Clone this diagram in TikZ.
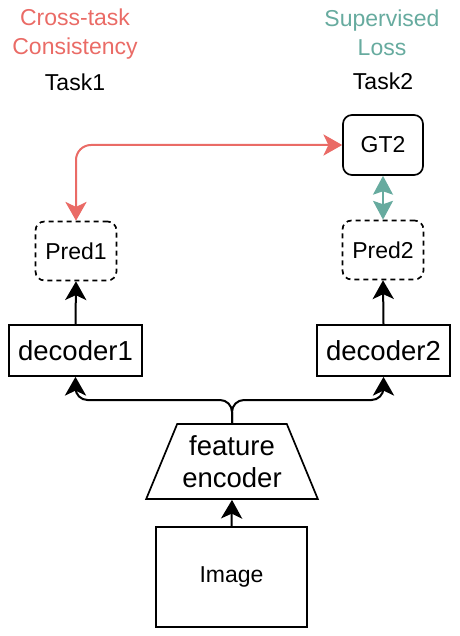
\documentclass[tikz,border=0pt]{standalone}
\usepackage{fontspec}
\setmainfont{Liberation Sans}
\usetikzlibrary{shapes.geometric,arrows.meta,positioning}
\definecolor{consistred}{RGB}{234, 107, 102}
\definecolor{superteal}{RGB}{103, 171, 159}

\begin{document}
\begin{tikzpicture}[x=1pt, y=-1pt,
    smallfont/.style={font=\fontsize{23}{29}\selectfont},
    bigfont/.style={font=\fontsize{27.5}{32}\selectfont},
    plainbox/.style={draw, line width=1.7pt, inner sep=0pt},
    predbox/.style={plainbox, dash pattern=on 5pt off 4pt, rounded corners=9pt, minimum width=81pt, minimum height=59pt, smallfont},
    arr/.style={line width=2pt, -{Stealth[length=15pt, width=17pt, inset=4pt, scale=1.25]}}]
    \useasboundingbox (0,0) rectangle (459,636);

    % Task headers
    \node[smallfont, align=center, text=consistred] (crosslbl) at (75,34) {Cross-task\\Consistency};
    \node[smallfont] (task1) at (75,82) {Task1};
    \node[smallfont, align=center, text=superteal] (suplbl) at (382,33) {Supervised\\Loss};
    \node[smallfont] (task2) at (383,81) {Task2};

    % Ground truth and predictions
    \node[plainbox, rounded corners=9pt, minimum width=80pt, minimum height=60pt, smallfont] (gt2) at (383,145) {GT2};
    \node[predbox] (pred1) at (76,251) {Pred1};
    \node[predbox] (pred2) at (383,250) {Pred2};

    % Decoders
    \node[plainbox, minimum width=133pt, minimum height=51pt, bigfont] (dec1) at (75.5,350.5) {decoder1};
    \node[plainbox, minimum width=133pt, minimum height=51pt, bigfont] (dec2) at (383.5,350.5) {decoder2};

    % Encoder and input
    \node[plainbox, trapezium, trapezium stretches=true, trapezium angle=62.5, minimum width=172pt, minimum height=75pt, inner sep=2pt, align=center, bigfont] (enc) at (232,461.5) {feature\\encoder};
    \node[plainbox, minimum width=151pt, minimum height=100pt, smallfont] (img) at (231.5,577) {Image};
    \coordinate (fork) at (232,400);

    % Losses
    \draw[consistred, line width=2pt, rounded corners=15pt, {Stealth[length=15pt, width=17pt, inset=4pt, scale=1.25]}-{Stealth[length=15pt, width=17pt, inset=4pt, scale=1.25]}] (pred1.north) |- (gt2.west);
    \draw[superteal, line width=2.6pt, {Stealth[length=17pt, width=18pt, inset=3pt, scale=1.1]}-{Stealth[length=17pt, width=18pt, inset=3pt, scale=1.1]}] (gt2.south) -- (pred2.north);

    % Forward pass
    \draw[arr] (img.north) -- (enc.south);
    \draw[arr, rounded corners=12pt] (enc.north) -- (fork) -| (dec1.south);
    \draw[arr, rounded corners=12pt] (enc.north) -- (fork) -| (dec2.south);
    \draw[arr] (dec1.north) -- (pred1.south);
    \draw[arr] (dec2.north) -- (pred2.south);
\end{tikzpicture}
\end{document}
